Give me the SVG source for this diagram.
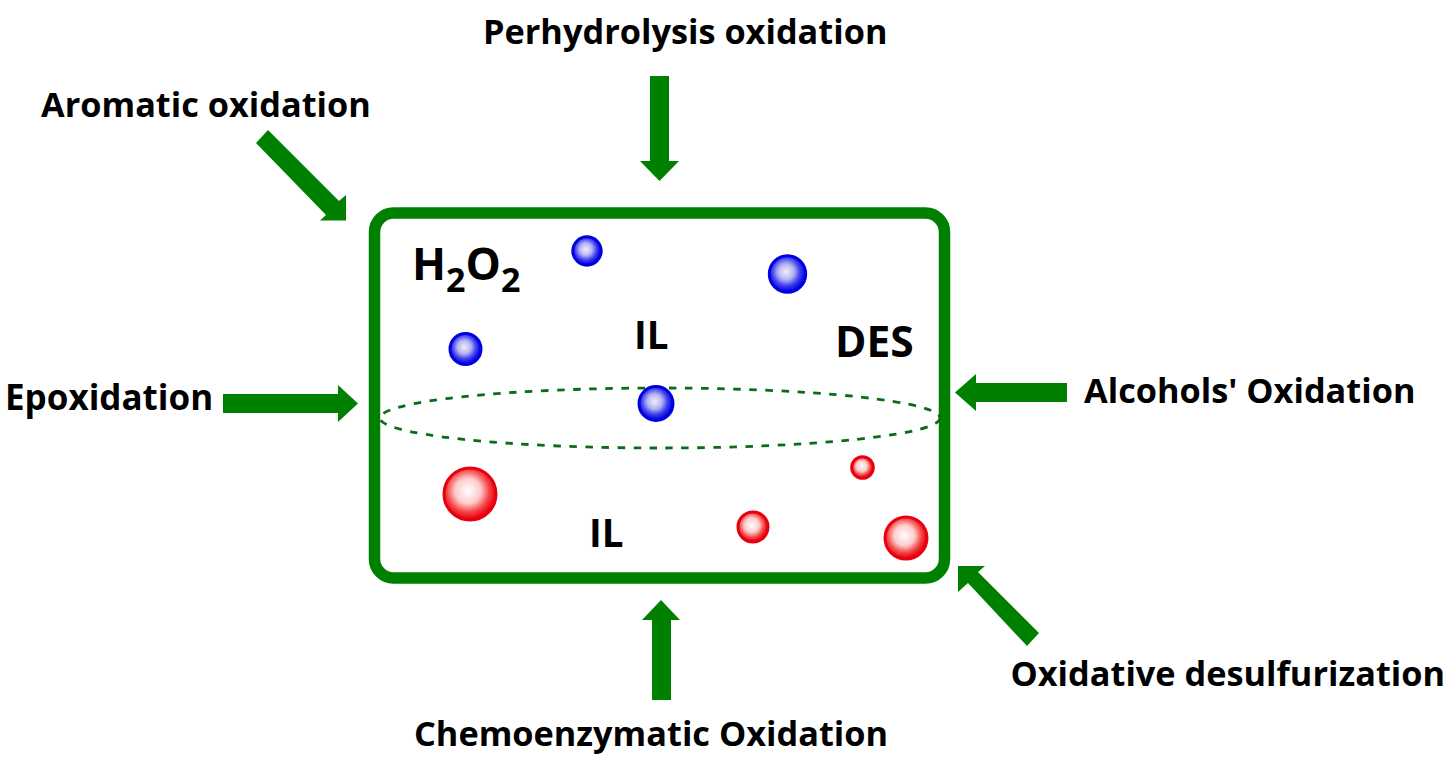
<svg xmlns="http://www.w3.org/2000/svg" width="1451" height="764" viewBox="0 0 1451 764">
<style>
text{font-family:"Open Sans","Noto Sans","Liberation Sans",sans-serif;font-weight:700;fill:#000}
.lab{font-size:34.300px}
.big{font-size:38.500px}
.h{font-size:44.500px}
.des{font-size:42.500px}
.sub{font-size:34px}
.arrow{fill:#008000}
.b{fill:url(#blue);stroke:#0000e0;stroke-width:3}
.r{fill:url(#red);stroke:#e8000f;stroke-width:3}
</style>
<defs>
<radialGradient id="blue" cx="0.46" cy="0.44" r="0.54"><stop offset="0" stop-color="#f0f0fa"/><stop offset="0.4" stop-color="#b4b4f4"/><stop offset="0.72" stop-color="#3c3cec"/><stop offset="1" stop-color="#0000e0"/></radialGradient>
<radialGradient id="red" cx="0.46" cy="0.44" r="0.54"><stop offset="0" stop-color="#fff"/><stop offset="0.45" stop-color="#fdcccc"/><stop offset="0.75" stop-color="#f44848"/><stop offset="1" stop-color="#e8000f"/></radialGradient>
</defs>
<rect width="1451" height="764" fill="#fff"/>
<g id="vessel">
<rect x="374.500" y="213" width="570" height="365" rx="19" fill="#fff" stroke="#008000" stroke-width="11.500"/>
<ellipse cx="660" cy="418" rx="280" ry="30" fill="none" stroke="#0b6b1a" stroke-width="2.800" stroke-dasharray="7.500 8.500"/>
</g>
<g id="connectors">
<path class="arrow" d="M650 76H669V161H679L659.500 181L640 161H650Z"/>
<path class="arrow" d="M268 130L339 201L346 195V220.500H320L326 215L256 143Z"/>
<path class="arrow" d="M223 394H338V385L358 403.500L338 422V413H223Z"/>
<path class="arrow" d="M1067 383H976V374L955 392.500L976 411V402H1067Z"/>
<path class="arrow" d="M652 700H671V620H680L661 600L642 620H652Z"/>
<path class="arrow" d="M1039 633L978 572L985 566H958V592L968 583L1027 646Z"/>
</g>
<g id="bubbles">
<circle class="b" cx="587" cy="251" r="14.200"/>
<circle class="b" cx="787.500" cy="274" r="18.200"/>
<circle class="b" cx="465.500" cy="349" r="15.500"/>
<circle class="b" cx="656" cy="403.500" r="17"/>
<circle class="r" cx="470" cy="494" r="26"/>
<circle class="r" cx="753" cy="527" r="15"/>
<circle class="r" cx="862.500" cy="467.500" r="10.800"/>
<circle class="r" cx="906" cy="538" r="21"/>
</g>
<g id="label-perhydrolysis"><text class="lab" x="483" y="44">Perhydrolysis oxidation</text></g>
<g id="label-aromatic"><text class="lab" x="41" y="117">Aromatic oxidation</text></g>
<g id="label-epoxidation"><text class="lab" x="5" y="410" style="font-size:35px">Epoxidation</text></g>
<g id="label-alcohols"><text class="lab" x="1084" y="403">Alcohols' Oxidation</text></g>
<g id="label-desulfurization"><text class="lab" x="1010.500" y="686">Oxidative desulfurization</text></g>
<g id="label-chemoenzymatic"><text class="lab" x="414" y="746">Chemoenzymatic Oxidation</text></g>
<g id="label-h2o2"><text class="h" x="412" y="280">H<tspan class="sub" dy="12">2</tspan><tspan dy="-12">O</tspan><tspan class="sub" dy="12">2</tspan></text></g>
<g id="label-il-top"><text class="big" x="634" y="349">IL</text></g>
<g id="label-des"><text class="des" x="835" y="357">DES</text></g>
<g id="label-il-bottom"><text class="big" x="589" y="547">IL</text></g>
</svg>
